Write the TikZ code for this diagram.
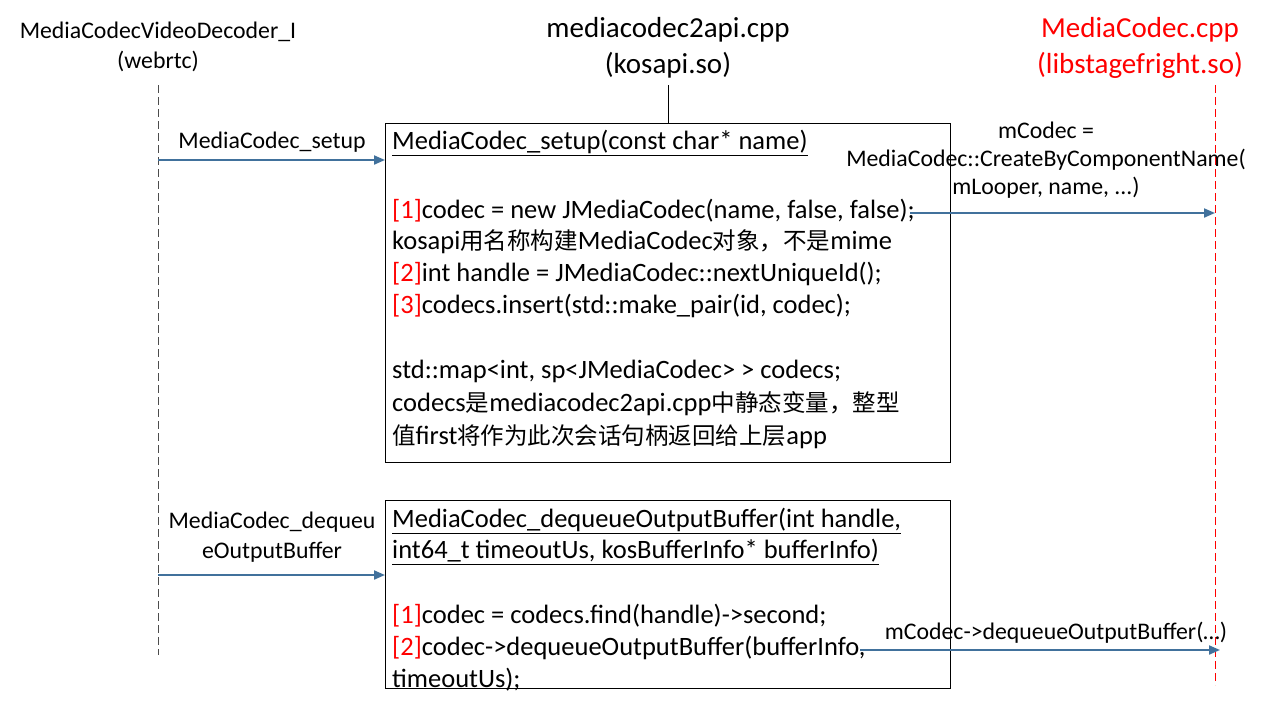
\documentclass[tikz,border=0pt]{standalone}
\usepackage{fontspec}
\setmainfont{Carlito}
\newfontfamily\cjk{Noto Sans CJK SC}
\usetikzlibrary{arrows.meta}
\definecolor{arr}{RGB}{65,113,156}
\newcommand{\zh}[1]{{\cjk\fontsize{23.5}{26}\selectfont #1}}
\newcommand{\rn}[1]{\textcolor{red}{[#1]}}
\begin{document}
\begin{tikzpicture}[x=1pt,y=-1pt,
  txt/.style={inner sep=0pt,anchor=west,font=\fontsize{26.5}{30}\selectfont},
  lbl/.style={inner sep=0pt,align=center,font=\fontsize{23.8}{30}\selectfont},
  title/.style={inner sep=0pt,align=center,font=\fontsize{29}{36}\selectfont},
  msg/.style={draw=arr,line width=2pt,-{Triangle[length=11pt,width=9pt]}},
  box/.style={draw,line width=0.8pt}]
\useasboundingbox (0,0) rectangle (1269,723);
% headers
\node[lbl] (h1) at (158,47) {MediaCodecVideoDecoder\_I\\(webrtc)};
\node[title] (h2) at (668,48) {mediacodec2api.cpp\\(kosapi.so)};
\node[title,text=red] (h3) at (1140,48) {MediaCodec.cpp\\(libstagefright.so)};
% lifelines
\coordinate (l1t) at (158,85); \coordinate (l1b) at (158,655);
\draw[dash pattern=on 8pt off 4pt,line width=1pt,gray!60!black] (l1t) -- (l1b);
\coordinate (l2t) at (668,85); \coordinate (l2b) at (668,123);
\draw[line width=0.8pt] (l2t) -- (l2b);
\coordinate (l3t) at (1215,85); \coordinate (l3b) at (1215,685);
\draw[dash pattern=on 8pt off 4pt,line width=1pt,red] (l3t) -- (l3b);
% boxes
\node[box,minimum width=565pt,minimum height=339pt,anchor=north west] (b1) at (385,123) {};
\node[box,minimum width=565pt,minimum height=188pt,anchor=north west] (b2) at (385,500) {};
% box1 text
\node[txt] (t1) at (392,143) {\underline{MediaCodec\_setup(const char* name)}};
\node[txt] (t2) at (392,211) {\rn{1}codec = new JMediaCodec(name, false, false);};
\node[txt] (t3) at (392,242) {kosapi\zh{用名称构建}MediaCodec\zh{对象，不是}mime};
\node[txt] (t4) at (392,274) {\rn{2}int handle = JMediaCodec::nextUniqueId();};
\node[txt] (t5) at (392,306) {\rn{3}codecs.insert(std::make\_pair(id, codec);};
\node[txt] (t6) at (392,371) {std::map<int, sp<JMediaCodec> > codecs;};
\node[txt] (t7) at (392,404) {codecs\zh{是}mediacodec2api.cpp\zh{中静态变量，整型}};
\node[txt] (t8) at (392,437) {\zh{值}first\zh{将作为此次会话句柄返回给上层}app};
% box2 text
\node[txt] (u1) at (392,521) {\underline{MediaCodec\_dequeueOutputBuffer(int handle,}};
\node[txt] (u2) at (392,552) {\underline{int64\_t timeoutUs, kosBufferInfo* bufferInfo)}};
\node[txt] (u3) at (392,616) {\rn{1}codec = codecs.find(handle)->second;};
\node[txt] (u4) at (392,648) {\rn{2}codec->dequeueOutputBuffer(bufferInfo,};
\node[txt] (u5) at (392,680) {timeoutUs);};
% messages
\coordinate (a1s) at (158,160); \coordinate (a1e) at (385,160);
\draw[msg] (a1s) -- (a1e);
\node[lbl] (m1) at (272,142) {MediaCodec\_setup};
\coordinate (a2s) at (158,575); \coordinate (a2e) at (385,575);
\draw[msg] (a2s) -- (a2e);
\node[lbl] (m2) at (272,537) {MediaCodec\_dequeu\\eOutputBuffer};
\coordinate (a3s) at (910,213); \coordinate (a3e) at (1215,213);
\draw[msg] (a3s) -- (a3e);
\node[lbl,font=\fontsize{23.8}{28}\selectfont] (m3) at (1046,160) {mCodec =\\MediaCodec::CreateByComponentName(\\mLooper, name, ...)};
\coordinate (a4s) at (860,650); \coordinate (a4e) at (1220,650);
\draw[msg] (a4s) -- (a4e);
\node[lbl] (m4) at (1056,633) {mCodec->dequeueOutputBuffer(\dots)};
\end{tikzpicture}
\end{document}
